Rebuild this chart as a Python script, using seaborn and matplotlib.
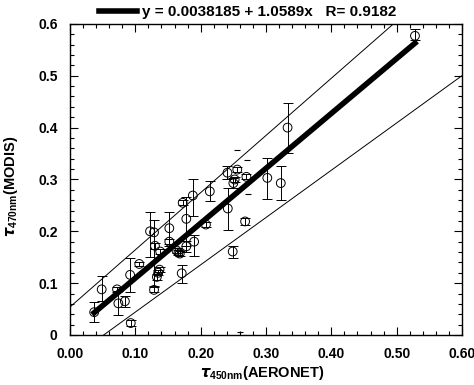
import numpy as np
import pandas as pd
import seaborn as sns
import matplotlib.pyplot as plt
from matplotlib.ticker import MultipleLocator, FormatStrFormatter, FuncFormatter

# AERONET tau 450nm vs MODIS tau 470nm
tau_aeronet = [0.037, 0.0485, 0.072, 0.074, 0.084, 0.093, 0.092, 0.106, 0.1225, 0.1286,
               0.1286, 0.130, 0.133, 0.135, 0.137, 0.138, 0.152, 0.152, 0.163, 0.166,
               0.168, 0.171, 0.1725, 0.178, 0.178, 0.188, 0.190, 0.208, 0.214, 0.2415,
               0.241, 0.249, 0.250, 0.256, 0.252, 0.268, 0.270, 0.302, 0.3226, 0.333, 0.528]
tau_modis = [0.044, 0.088, 0.088, 0.061, 0.065, 0.023, 0.116, 0.137, 0.200, 0.198,
             0.087, 0.172, 0.112, 0.120, 0.126, 0.161, 0.206, 0.180, 0.163, 0.159,
             0.157, 0.119, 0.255, 0.224, 0.171, 0.269, 0.180, 0.213, 0.277, 0.244,
             0.313, 0.161, 0.293, 0.319, 0.300, 0.219, 0.305, 0.303, 0.293, 0.400, 0.577]
modis_low = [0.025, 0.066, 0.083, 0.039, 0.054, 0.018, 0.082, 0.133, 0.150, 0.094,
             0.082, 0.166, 0.107, 0.115, 0.121, 0.156, 0.172, 0.175, 0.158, 0.154,
             0.152, 0.100, 0.250, 0.171, 0.160, 0.229, 0.152, 0.208, 0.258, 0.203,
             0.300, 0.148, 0.283, 0.314, 0.295, 0.212, 0.300, 0.262, 0.261, 0.351, 0.568]
modis_high = [0.063, 0.113, 0.093, 0.084, 0.075, 0.028, 0.148, 0.141, 0.237, 0.222,
              0.092, 0.178, 0.117, 0.125, 0.131, 0.166, 0.238, 0.185, 0.168, 0.164,
              0.162, 0.135, 0.260, 0.267, 0.182, 0.300, 0.193, 0.218, 0.297, 0.284,
              0.326, 0.171, 0.303, 0.324, 0.305, 0.226, 0.310, 0.342, 0.326, 0.448, 0.590]

# lone error-bar caps visible in the plot
cap_x = [0.272, 0.256, 0.271, 0.260]
cap_y = [0.271, 0.356, 0.337, 0.006]

# fit and expected-error envelope
fit_a, fit_b, fit_r = 0.0038185, 1.0589, 0.9182
upper_a, upper_b = 0.054, 1.103
lower_a, lower_b = -0.047, 0.912

df = pd.DataFrame({'aeronet': tau_aeronet, 'modis': tau_modis,
                   'low': modis_low, 'high': modis_high})

plt.rcParams['font.family'] = ['Liberation Sans', 'DejaVu Sans']
plt.rcParams['font.weight'] = 'bold'
plt.rcParams['mathtext.fontset'] = 'custom'
plt.rcParams['mathtext.rm'] = 'Liberation Sans'
plt.rcParams['mathtext.bf'] = 'Liberation Sans:bold'

fig = plt.figure(figsize=(4.74, 3.85), dpi=100)
ax = fig.add_axes([0.1477, 0.1299, 0.827, 0.808])

# envelope lines
xe = np.array([0.0, 0.6])
env = pd.DataFrame({'x': np.concatenate([xe, xe]),
                    'y': np.concatenate([upper_a + upper_b * xe, lower_a + lower_b * xe]),
                    'which': ['upper'] * 2 + ['lower'] * 2})
sns.lineplot(data=env, x='x', y='y', units='which', estimator=None, color='black',
             linewidth=0.7, ax=ax, legend=False)

# error bars
ax.errorbar(df['aeronet'], df['modis'],
            yerr=[df['modis'] - df['low'], df['high'] - df['modis']],
            fmt='none', ecolor='black', elinewidth=0.7, capsize=3.5, capthick=0.7)

# circles
sns.scatterplot(data=df, x='aeronet', y='modis', marker='o', s=40,
                facecolors='none', edgecolor='black', linewidth=0.7, ax=ax)
ax.plot(cap_x, cap_y, linestyle='none', marker='_', color='black', ms=5, mew=0.8)

# regression line
xf = np.array([min(tau_aeronet), max(tau_aeronet)])
fit = pd.DataFrame({'x': xf, 'y': fit_a + fit_b * xf})
sns.lineplot(data=fit, x='x', y='y', color='black', linewidth=4.0,
             label='y = %.7f + %.4fx   R= %.4f' % (fit_a, fit_b, fit_r), ax=ax)

ax.set_xlim(0, 0.6)
ax.set_ylim(0, 0.6)
ax.xaxis.set_major_locator(MultipleLocator(0.1))
ax.xaxis.set_minor_locator(MultipleLocator(0.02))
ax.yaxis.set_major_locator(MultipleLocator(0.1))
ax.yaxis.set_minor_locator(MultipleLocator(0.02))
ax.xaxis.set_major_formatter(FormatStrFormatter('%.2f'))
ax.yaxis.set_major_formatter(FuncFormatter(lambda v, p: '0' if abs(v) < 1e-9 else '%.1f' % v))
ax.tick_params(which='both', direction='in', top=True, right=True, width=0.8)
ax.tick_params(which='major', length=6, labelsize=10)
ax.tick_params(axis='x', which='major', pad=9)
ax.tick_params(axis='y', which='major', pad=9)
ax.tick_params(which='minor', length=3)
for s in ax.spines.values():
    s.set_linewidth(1.0)

ax.set_xlabel(r'$\tau_{\mathbf{450nm}}$(AERONET)', fontsize=10.5, fontweight='bold')
ax.set_ylabel(r'$\tau_{\mathbf{470nm}}$(MODIS)', fontsize=10.5, fontweight='bold')
ax.xaxis.set_label_coords(0.49, -0.093)
ax.yaxis.set_label_coords(-0.128, 0.476)

ax.legend(loc='center', bbox_to_anchor=(0.453, 1.038), frameon=False,
          handlelength=2.5, handletextpad=0.35, borderaxespad=0.0, borderpad=0.0,
          prop={'weight': 'bold', 'size': 11})

fig.savefig('out.png', dpi=100)
